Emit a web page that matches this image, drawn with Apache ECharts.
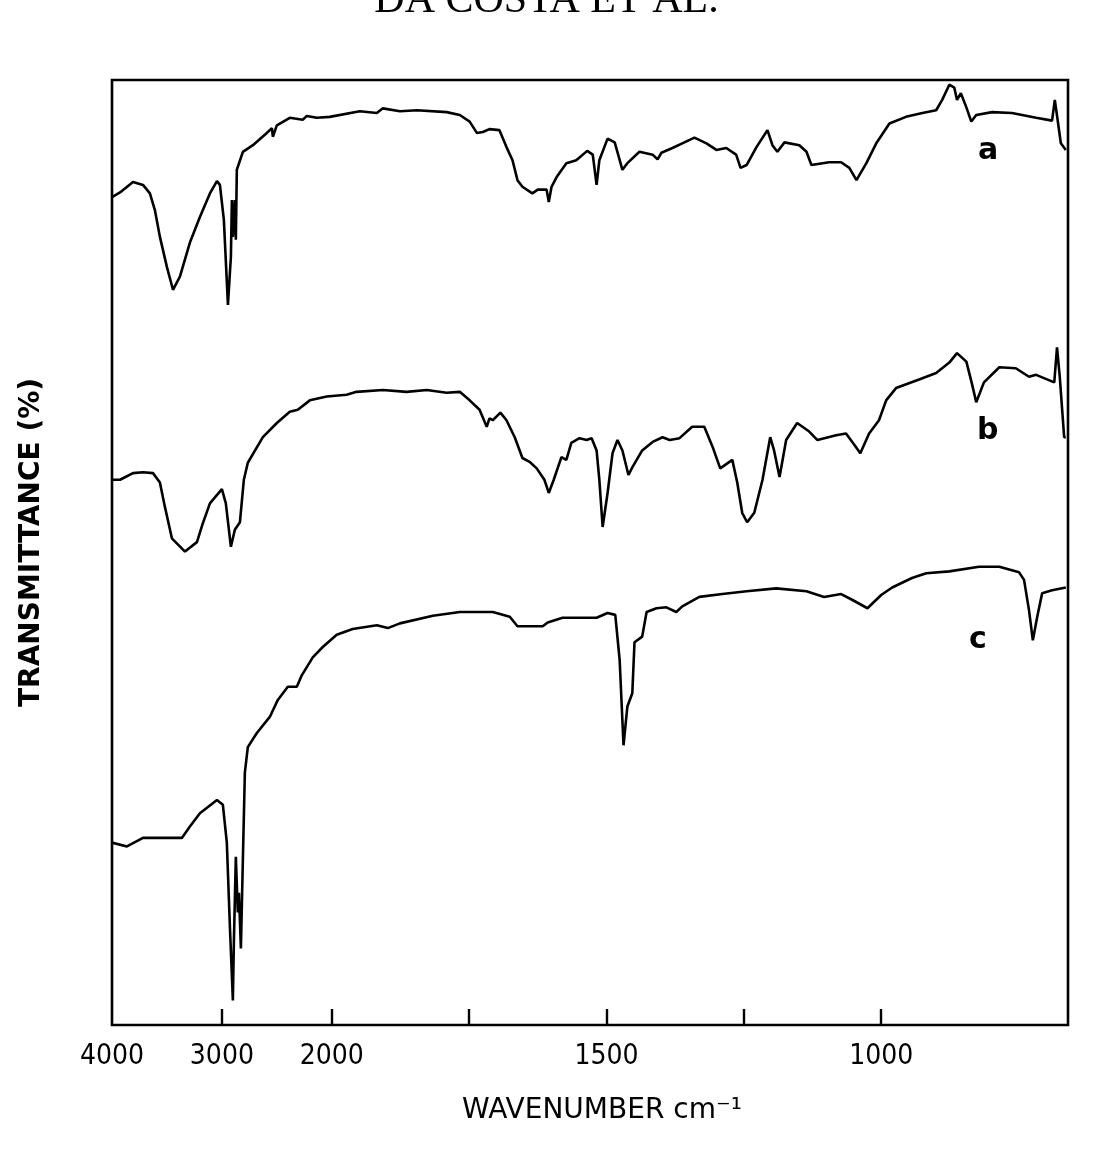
<!DOCTYPE html>
<html>
<head>
<meta charset="utf-8">
<script src="https://cdn.jsdelivr.net/npm/echarts@6/dist/echarts.min.js"></script>
<style>
html,body{margin:0;padding:0;background:#fff;}
#chart{width:1093px;height:1149px;}
</style>
</head>
<body>
<div id="chart"></div>
<script>
// Wavenumbers (cm-1) and transmittance (relative %)
var wnA = [4000,3927,3809,3718,3655,3609,3564,3500,3445,3382,3291,3200,3109,3045,3018,2982,2945,2918,2909,2900,2882,2873,2864,2809,2718,2591,2545,2536,2500,2382,2264,2227,2136,2018,1949,1918,1907,1876,1845,1791,1767,1749,1736,1725,1713,1695,1682,1671,1662,1653,1635,1625,1609,1605,1600,1591,1573,1555,1535,1525,1518,1513,1498,1485,1471,1462,1440,1416,1407,1400,1380,1362,1340,1318,1300,1282,1264,1256,1245,1227,1207,1198,1189,1176,1149,1136,1127,1095,1073,1058,1045,1027,1009,985,955,925,900,889,876,867,862,855,845,836,827,798,762,718,689,684,678,673,664];
var trA = [87.6,88.1,89.2,88.9,88.0,86.2,83.4,80.2,77.8,79.2,82.8,85.5,88.0,89.3,88.9,85.2,76.2,81.3,87.3,83.4,87.3,83.1,90.5,92.4,93.1,94.4,94.9,94.0,95.2,96.0,95.8,96.2,96.0,96.1,96.7,96.5,97.0,96.7,96.8,96.6,96.3,95.6,94.4,94.5,94.8,94.7,92.9,91.5,89.4,88.7,88.0,88.4,88.4,87.1,88.7,89.7,91.2,91.5,92.5,92.1,88.9,91.5,93.8,93.4,90.5,91.2,92.4,92.1,91.6,92.3,92.8,93.3,93.9,93.3,92.6,92.8,92.1,90.7,91.0,92.9,94.7,93.1,92.4,93.4,93.1,92.4,91.0,91.3,91.3,90.7,89.4,91.2,93.3,95.4,96.1,96.5,96.8,97.9,99.5,99.2,97.9,98.6,97.1,95.6,96.3,96.6,96.5,96.0,95.7,97.9,95.4,93.3,92.6];

var wnB = [4000,3927,3809,3718,3627,3564,3518,3455,3336,3227,3173,3109,3000,2964,2918,2882,2836,2800,2764,2627,2500,2382,2309,2200,2045,1973,1955,1907,1864,1827,1791,1767,1749,1731,1718,1713,1707,1693,1682,1667,1653,1640,1627,1613,1605,1596,1582,1573,1564,1549,1536,1527,1518,1513,1507,1498,1489,1480,1471,1460,1453,1435,1416,1398,1385,1367,1344,1322,1307,1293,1271,1262,1253,1244,1231,1216,1202,1195,1185,1173,1153,1131,1116,1082,1064,1049,1038,1022,1004,991,973,931,900,876,862,845,835,827,813,785,755,731,718,685,680,675,667,664];
var trB = [57.7,57.7,58.4,58.5,58.4,57.4,54.8,51.5,50.1,51.1,53.1,55.2,56.7,55.2,50.6,52.4,53.2,57.7,59.5,62.2,63.7,64.9,65.1,66.1,66.5,66.7,67.0,67.2,67.0,67.2,66.9,67.0,66.1,65.1,63.3,64.2,64.0,64.8,64.0,62.2,60.0,59.6,58.9,57.7,56.3,57.7,60.1,59.8,61.6,62.1,61.9,62.1,60.8,57.7,52.7,56.3,60.5,61.9,60.8,58.2,59.0,60.8,61.7,62.2,61.9,62.1,63.3,63.3,61.2,58.9,59.8,57.4,54.2,53.2,54.2,57.7,62.2,60.8,58.0,61.9,63.7,62.8,61.9,62.4,62.6,61.4,60.5,62.6,64.0,66.1,67.4,68.3,69.0,70.1,71.1,70.2,67.9,65.9,68.0,69.6,69.5,68.6,68.8,68.0,71.7,68.6,62.2,62.2];

var wnC = [4000,3864,3718,3500,3364,3291,3200,3045,2991,2955,2927,2900,2891,2873,2855,2845,2827,2809,2791,2764,2682,2564,2491,2400,2318,2273,2173,2082,1991,1962,1918,1898,1876,1816,1767,1707,1676,1662,1616,1607,1580,1518,1498,1484,1476,1469,1462,1453,1449,1435,1427,1409,1391,1373,1362,1331,1289,1245,1191,1136,1104,1073,1053,1025,1000,980,944,918,876,822,785,749,740,731,724,716,707,689,664];
var trC = [19.3,18.9,19.8,19.8,19.8,21.0,22.4,23.8,23.3,19.3,10.4,2.6,8.7,17.8,11.9,14.0,8.1,17.5,26.7,29.4,30.9,32.6,34.4,35.8,35.8,37.0,38.9,40.0,41.3,41.9,42.3,42.0,42.5,43.3,43.7,43.7,43.2,42.2,42.2,42.6,43.1,43.1,43.6,43.4,38.6,29.6,33.7,35.1,40.5,41.1,43.7,44.1,44.2,43.7,44.3,45.3,45.6,45.9,46.2,45.9,45.3,45.6,45.0,44.1,45.5,46.3,47.3,47.8,48.0,48.5,48.5,47.9,47.1,43.9,40.7,43.2,45.7,46.0,46.3];

var tickWn = [3000, 2000, 1750, 1500, 1250, 1000];
var labelWn = [4000, 3000, 2000, 1500, 1000];
var curveLabels = ['a', 'b', 'c'];

// Spectrometer abscissa: 4000-2000 cm-1 compressed 5x relative to 2000-660 cm-1
function toU(w) { return w >= 2000 ? (4000 - w) / 5 : 400 + (2000 - w); }
function fromU(u) { return u <= 400 ? 4000 - 5 * u : 2000 - (u - 400); }
function pairs(wn, tr) { return wn.map(function (w, i) { return [toU(w), tr[i]]; }); }

var chart = echarts.init(document.getElementById('chart'));
var lineStyle = { color: '#000', width: 2.6 };
function mk(name, wn, tr) {
  return { name: name, type: 'line', data: pairs(wn, tr), showSymbol: false, symbol: 'none',
           lineStyle: lineStyle, animation: false, clip: true };
}
chart.setOption({
  backgroundColor: '#fff',
  animation: false,
  grid: { left: 112, top: 80, right: 25, bottom: 124, show: true, borderColor: '#000', borderWidth: 2.6, backgroundColor: 'transparent' },
  xAxis: {
    type: 'value', min: 0, max: toU(660),
    name: 'WAVENUMBER cm⁻¹', nameLocation: 'middle', nameGap: 72,
    nameTextStyle: { fontFamily: 'DejaVu Sans', fontSize: 28, color: '#000', padding: [0, 0, 0, 24] },
    axisLine: { show: false },
    splitLine: { show: false },
    axisTick: { show: true, inside: true, length: 16, customValues: tickWn.map(toU), lineStyle: { color: '#000', width: 2.4 } },
    axisLabel: { show: true, customValues: labelWn.map(toU), margin: 18, color: '#000',
                 fontFamily: 'DejaVu Sans Condensed', fontSize: 28,
                 formatter: function (v) { return String(Math.round(fromU(v))); } }
  },
  yAxis: {
    type: 'value', min: 0, max: 100,
    name: 'TRANSMITTANCE (%)', nameLocation: 'middle', nameGap: 66,
    nameTextStyle: { fontFamily: 'DejaVu Sans', fontWeight: 'bold', fontSize: 28, color: '#000', padding: [0, 0, 0, 20] },
    axisLine: { show: false }, axisTick: { show: false }, axisLabel: { show: false }, splitLine: { show: false }
  },
  graphic: [
    { type: 'text', left: 'center', top: -20, style: { text: 'DA COSTA ET AL.', font: '42px "Liberation Serif"', fill: '#000' } },
    { type: 'text', left: 978, top: 136, style: { text: curveLabels[0], font: 'bold 30px "DejaVu Sans"', fill: '#000' } },
    { type: 'text', left: 977, top: 416, style: { text: curveLabels[1], font: 'bold 30px "DejaVu Sans"', fill: '#000' } },
    { type: 'text', left: 969, top: 625, style: { text: curveLabels[2], font: 'bold 30px "DejaVu Sans"', fill: '#000' } }
  ],
  series: [ mk('a', wnA, trA), mk('b', wnB, trB), mk('c', wnC, trC) ]
});
</script>
</body>
</html>
